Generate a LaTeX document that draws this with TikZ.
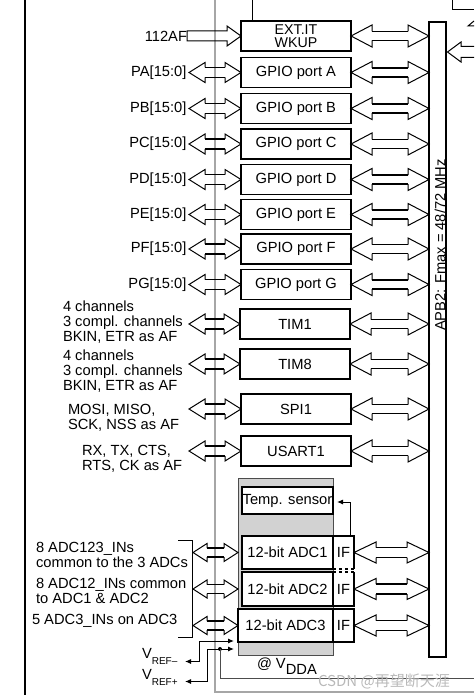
\documentclass[tikz,border=0pt]{standalone}
\usepackage{fontspec}
\setmainfont{Liberation Sans}
\newfontfamily\cjk{Noto Sans CJK SC}
\usetikzlibrary{calc,arrows.meta}
\newcommand{\dblarr}[5]{%
 \draw[arrhead] let \p1=(#1), \p2=(#2) in
  (\x1+#3,\y1+#5) -- (\x1+#3,\y1+#4) -- (\x1,\y1) -- (\x1+#3,\y1-#4) -- (\x1+#3,\y1-#5)
  (\x2-#3,\y1+#5) -- (\x2-#3,\y1+#4) -- (\x2,\y1) -- (\x2-#3,\y1-#4) -- (\x2-#3,\y1-#5);
 \draw[arrshaft] let \p1=(#1), \p2=(#2) in
  (\x1+#3,\y1+#5) -- (\x2-#3,\y1+#5) (\x1+#3,\y1-#5) -- (\x2-#3,\y1-#5);
}
\begin{document}
\begin{tikzpicture}[x=1pt,y=-1pt,
  every node/.style={font=\fontsize{14.7}{15}\selectfont, inner sep=0pt, outer sep=0pt},
  blk/.style={draw, line width=1.1pt, fill=white, minimum width=110pt, minimum height=30pt},
  lab/.style={align=left},
  arrhead/.style={line width=1pt, line join=miter},
  arrshaft/.style={line width=1.4pt, line cap=butt},
  wire/.style={line width=1pt},
  vref/.style={line width=1pt, {Latex[length=6pt,width=5pt]}-{Latex[length=6pt,width=5pt]}},
]
\useasboundingbox (0,0) rectangle (474,695);

% frame lines
\draw[line width=1.2pt] (25,0) -- (25,695);
\draw[gray!70, line width=2.8pt] (215,0) -- (215,692) -- (474,692);

% top right fragments
\draw[line width=1pt] (452,0) -- (452,10) -- (474,10);
\draw[line width=1pt] (474,21) -- (468,26) -- (474,26);

% APB2 bus
\node[draw, line width=1.1pt, minimum width=17pt, minimum height=635pt] (apb) at (437.5,339.5) {};
\node[rotate=90] (apbt) at (440,245) {APB2: Fmax = 48/72 MHz};
\coordinate (inR) at (474,52);
\draw[arrhead] let \p1=(apb.east |- inR), \p2=(inR) in
  (\x2,\y1+5.5pt) -- (\x1+15pt,\y1+5.5pt) -- (\x1+15pt,\y1+10pt) -- (\x1+1.5pt,\y1)
  -- (\x1+15pt,\y1-10pt) -- (\x1+15pt,\y1-5.5pt) -- (\x2,\y1-5.5pt);

% bus columns
\coordinate (busL) at (189,0);
\coordinate (busA) at (193,0);

% EXT.IT
\node[blk, align=center, font=\fontsize{14.2}{13.5}\selectfont] (ext) at (296,36) {EXT.IT\\WKUP};
\coordinate (topE) at (252,0);
\draw[wire] (topE) -- (topE |- ext.north);
\node[anchor=east] (l112) at (187,36) {112AF};
\draw[arrhead] let \p1=(l112.east), \p2=(ext.west) in
  (\x1,\y1-5pt) -- (\x2-14pt,\y1-5pt) -- (\x2-14pt,\y1-10pt) -- (\x2,\y1)
  -- (\x2-14pt,\y1+10pt) -- (\x2-14pt,\y1+5pt) -- (\x1,\y1+5pt) -- cycle;
\dblarr{ext.east}{ext.east -| apb.west}{21pt}{11pt}{4.5pt}

% GPIO ports
\foreach \nn/\pp/\yy in {A/PA/72.5, B/PB/108.5, C/PC/144, D/PD/179.5, E/PE/214.5, F/PF/249, G/PG/284.5}{
  \node[blk] (g\nn) at (296,\yy) {GPIO port \nn};
  \node[anchor=east] (l\nn) at (186.5,\yy) {\pp[15:0]};
  \dblarr{busL |- g\nn.west}{g\nn.west}{16pt}{10pt}{5pt}
  \dblarr{g\nn.east}{g\nn.east -| apb.west}{21pt}{11pt}{4.5pt}
}

% timers, SPI, USART
\node[blk] (tim1) at (295,324) {TIM1};
\node[blk] (tim8) at (295,364) {TIM8};
\node[blk] (spi1) at (296,409) {SPI1};
\node[blk] (usart1) at (296,451) {USART1};
\node[lab, anchor=west] (lt1) at (63,322) {4 channels\\3 compl. channels\\BKIN, ETR as AF};
\node[lab, anchor=west] (lt8) at (63,371.5) {4 channels\\3 compl. channels\\BKIN, ETR as AF};
\node[lab, anchor=west] (lspi) at (68,417.5) {MOSI, MISO,\\SCK, NSS as AF};
\node[lab, anchor=west] (lusart) at (82,458.5) {RX, TX, CTS,\\RTS, CK as AF};
\foreach \bb in {tim1,tim8,spi1,usart1}{
  \dblarr{busL |- \bb.west}{\bb.west}{16pt}{10pt}{5pt}
  \dblarr{\bb.east}{\bb.east -| apb.west}{21pt}{11pt}{4.5pt}
}

% ADC group
\node[draw=gray!60!black, fill=gray!35, line width=1pt, minimum width=95pt, minimum height=177pt] (adcg) at (285.5,566.5) {};
\node[draw, line width=1.1pt, fill=white, minimum width=91pt, minimum height=27pt] (temp) at (287.5,500.5) {Temp. sensor};
\node[draw, line width=1.1pt, fill=white, minimum width=91pt, minimum height=33pt] (adc1) at (287.5,552.5) {12-bit ADC1};
\node[draw, line width=1.1pt, fill=white, minimum width=91pt, minimum height=34pt] (adc2) at (287.5,589) {12-bit ADC2};
\node[draw, line width=1.1pt, fill=white, minimum width=95pt, minimum height=33pt] (adc3) at (285.5,625.5) {12-bit ADC3};
\node[minimum width=21pt, minimum height=33pt] (if1) at (343.5,552.5) {IF};
\node[minimum width=21pt, minimum height=34pt] (if2) at (343.5,589) {IF};
\node[draw, line width=1.1pt, minimum width=21pt, minimum height=33pt] (if3) at (343.5,625.5) {IF};
\draw[line width=1.1pt] (if1.south west) -- (if1.north west) -- (if1.north east) -- (if1.south east);
\draw[line width=1.1pt, dash pattern=on 3pt off 3pt] (if1.south west) -- (if1.south east);
\draw[line width=1.1pt] (if2.north west) -- (if2.south west) -- (if2.south east) -- (if2.north east);
\draw[line width=1.1pt, dash pattern=on 3pt off 3pt] (if2.north west) -- (if2.north east);
\draw[wire, -{Latex[length=6pt,width=5pt]}] ([xshift=6.5pt]if1.north) |- ([xshift=4pt,yshift=-1.5pt]temp.east);

\foreach \aa/\ff in {adc1/if1, adc2/if2, adc3/if3}{
  \dblarr{busA |- \aa.west}{adcg.west |- \aa.west}{14pt}{9pt}{4.5pt}
  \dblarr{\ff.east}{\ff.east -| apb.west}{22pt}{10.5pt}{5pt}
}
\node[lab, anchor=west] (la1) at (36,554.5) {8 ADC123\_INs\\common to the 3 ADCs};
\node[lab, anchor=west] (la2) at (36,591) {8 ADC12\_INs common\\to ADC1 \& ADC2};
\node[lab, anchor=west] (la3) at (32,621) {5 ADC3\_INs on ADC3};
\draw[line width=1pt] (178,540) -- (192,540) -- (192,637) -- (178,637);

% VREF
\node[anchor=base west] (vm) at (142,658) {V\raisebox{-6pt}{\fontsize{10}{10}\selectfont REF–}};
\node[anchor=base west] (vp) at (142,679) {V\raisebox{-6pt}{\fontsize{10}{10}\selectfont REF+}};
\coordinate (vmL) at (185,661.5);
\coordinate (vmK) at (199,641);
\coordinate (vmR) at (234,641);
\coordinate (vpL) at (185,681.5);
\coordinate (vpK) at (207,649);
\coordinate (vpR) at (234,649);
\coordinate (dot) at (220,649);
\coordinate (dotD) at (220,678);
\coordinate (dotR) at (474,678);
\draw[vref] (vmL) -| (vmK) -- (vmR);
\draw[vref] (vpL) -| (vpK) -- (vpR);
\fill (dot) circle (2pt);
\draw[line width=1pt, gray!60!black] (dot) -- (dotD) -- (dotR);
\node[anchor=base west] (vdda) at (257,668) {@ V\raisebox{-6pt}{DDA}};

% watermark
\node[anchor=west, text=gray!55, font=\fontsize{15}{15}\cjk] (wm) at (318,681) {CSDN @再望断天涯};
\end{tikzpicture}
\end{document}
